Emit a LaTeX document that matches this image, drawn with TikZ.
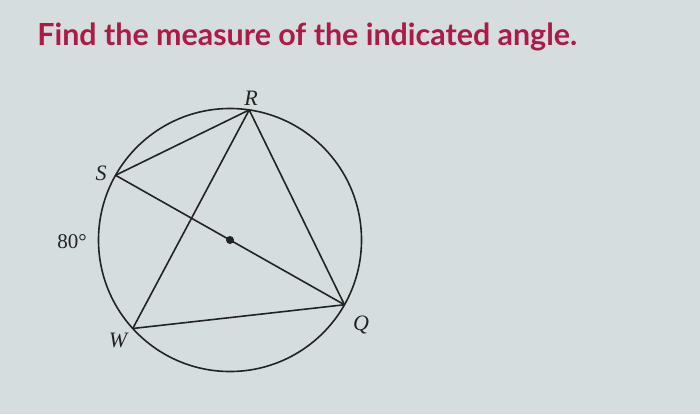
\documentclass[tikz,border=0pt]{standalone}
\usepackage{fontspec}
\setmainfont{Liberation Serif}
\newfontfamily\titlefont{Lato}
\usetikzlibrary{positioning, calc}
\definecolor{screenbg}{RGB}{214,221,223}
\definecolor{titlered}{RGB}{172,26,70}
\definecolor{inkline}{RGB}{35,35,35}

\begin{document}
\begin{tikzpicture}[
      x=0.5pt, y=0.5pt,
      chord/.style={draw=inkline, line width=0.8pt},
      vlabel/.style={font=\fontsize{11}{13}\selectfont\itshape, text=inkline, inner sep=0pt},
      arclabel/.style={font=\fontsize{10.5}{12}\selectfont, text=inkline, inner sep=0pt},
      heading/.style={font=\titlefont\bfseries\fontsize{15.2}{18}\selectfont, text=titlered,
                      anchor=west, inner sep=0pt}
    ]
    \fill[screenbg] (0,0) rectangle (700,414);
    \useasboundingbox (0,0) rectangle (700,414);

    \node[heading] (title) at (37,377) {Find the measure of the indicated angle.};

    % circle and its points
    \coordinate (O) at (230,174);
    \draw[chord] (O) circle[radius=131.5];
    \coordinate (R) at ($(O)+(81.6:131.5)$);
    \coordinate (S) at ($(O)+(150.5:131.5)$);
    \coordinate (W) at ($(O)+(222.3:131.5)$);
    \coordinate (Q) at ($(O)+(330.5:131.5)$);
    \fill[inkline] (O) circle[radius=4];

    \draw[chord] (S) -- (R);
    \draw[chord] (R) -- (W);
    \draw[chord] (R) -- (Q);
    \draw[chord] (S) -- (Q);
    \draw[chord] (W) -- (Q);

    \node[vlabel] (lblR) at (251,316) {R};
    \node[vlabel] (lblS) at (101,241) {S};
    \node[vlabel] (lblW) at (118,74) {W};
    \node[vlabel] (lblQ) at (361,89) {Q};
    \node[arclabel] (arcSW) at (72,172) {80°};
\end{tikzpicture}
\end{document}
